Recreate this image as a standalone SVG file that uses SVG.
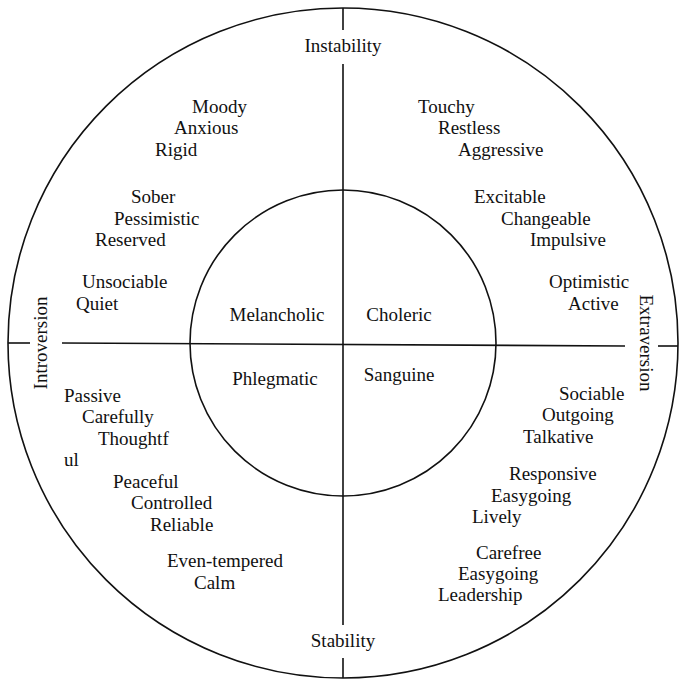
<svg xmlns="http://www.w3.org/2000/svg" width="685" height="685" viewBox="0 0 685 685">
<style>
text{font-family:"Liberation Serif","Times New Roman",serif;font-size:19px;fill:#111}
.l{fill:none;stroke:#111;stroke-width:1.6}
</style>
<rect width="685" height="685" fill="#fff"/>
<g id="connectors">
<line class="l" x1="343" y1="8" x2="343" y2="30"/>
<line class="l" x1="343" y1="64" x2="343" y2="625"/>
<line class="l" x1="343" y1="658" x2="343" y2="678"/>
<line class="l" x1="8" y1="343" x2="30" y2="343"/>
<line class="l" x1="62" y1="343" x2="625" y2="346"/>
<line class="l" x1="658" y1="346" x2="678" y2="346"/>
</g>
<g id="outer"><circle class="l" cx="343" cy="343" r="335"/></g>
<g id="inner"><circle class="l" cx="343" cy="343" r="153"/></g>
<g id="axes">
<text x="343" y="52" text-anchor="middle">Instability</text>
<text x="343" y="647" text-anchor="middle">Stability</text>
<text transform="translate(47,343) rotate(-90)" text-anchor="middle">Introversion</text>
<text transform="translate(640,343) rotate(90)" text-anchor="middle">Extraversion</text>
</g>
<g id="temperaments">
<text x="277" y="321" text-anchor="middle">Melancholic</text>
<text x="399" y="321" text-anchor="middle">Choleric</text>
<text x="275" y="385" text-anchor="middle">Phlegmatic</text>
<text x="399" y="381" text-anchor="middle">Sanguine</text>
</g>
<g id="melancholic-traits">
<text x="192" y="113">Moody</text><text x="174" y="134">Anxious</text><text x="155" y="156">Rigid</text>
<text x="131" y="203">Sober</text><text x="114" y="225">Pessimistic</text><text x="95" y="246">Reserved</text>
<text x="82" y="288">Unsociable</text><text x="76" y="310">Quiet</text>
</g>
<g id="choleric-traits">
<text x="418" y="113">Touchy</text><text x="438" y="134">Restless</text><text x="458" y="156">Aggressive</text>
<text x="474" y="203">Excitable</text><text x="501" y="225">Changeable</text><text x="530" y="246">Impulsive</text>
<text x="549" y="288">Optimistic</text><text x="568" y="310">Active</text>
</g>
<g id="phlegmatic-traits">
<text x="64" y="402">Passive</text><text x="82" y="423">Carefully</text><text x="98" y="445">Thoughtf</text><text x="64" y="466">ul</text>
<text x="113" y="488">Peaceful</text><text x="131" y="509">Controlled</text><text x="150" y="531">Reliable</text>
<text x="167" y="567">Even-tempered</text><text x="194" y="589">Calm</text>
</g>
<g id="sanguine-traits">
<text x="559" y="400">Sociable</text><text x="542" y="421">Outgoing</text><text x="523" y="443">Talkative</text>
<text x="509" y="480">Responsive</text><text x="491" y="502">Easygoing</text><text x="472" y="523">Lively</text>
<text x="476" y="559">Carefree</text><text x="458" y="580">Easygoing</text><text x="438" y="601">Leadership</text>
</g>
</svg>
